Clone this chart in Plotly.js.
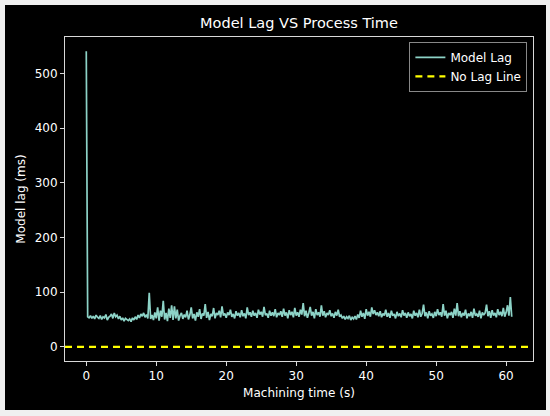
<!DOCTYPE html>
<html>
<head>
<meta charset="utf-8">
<script src="https://cdn.plot.ly/plotly-3.0.1.min.js"></script>
<style>
	html, body { margin: 0; padding: 0; background: #f0f0f0; }
	#plot { position: absolute; left: 5px; top: 5px; width: 541px; height: 405px; }
</style>
</head>
<body>
<div id="plot"></div>
<script>
/* global Plotly */
// model lag in ms, one sample every 0.2 s starting at t = 0
const SAMPLE_START = 0;
const SAMPLE_STEP = 0.2;
const modelLag = [
	541, 55, 53, 57, 52, 56, 51, 58, 54, 52,
	57, 50, 55, 53, 59, 49, 54, 56, 60, 52,
	62, 55, 58, 51, 56, 49, 53, 47, 52, 50,
	48, 51, 46, 53, 49, 55, 50, 58, 53, 60,
	56, 62, 54, 59, 52, 99, 51, 58, 49, 63,
	52, 72, 48, 66, 55, 84, 50, 62, 47, 70,
	53, 76, 49, 74, 52, 68, 48, 57, 62, 51,
	59, 54, 66, 50, 58, 72, 52, 60, 48, 63,
	55, 69, 51, 61, 57, 78, 53, 64, 49, 60,
	56, 71, 52, 62, 58, 66, 54, 74, 57, 61,
	53, 63, 58, 68, 55, 60, 52, 65, 57, 62,
	54, 67, 56, 61, 52, 72, 58, 63, 55, 66,
	57, 62, 53, 68, 59, 64, 55, 73, 58, 61,
	53, 66, 57, 63, 56, 69, 54, 62, 58, 65,
	55, 70, 57, 63, 52, 67, 58, 64, 54, 71,
	57, 63, 55, 68, 59, 80, 56, 66, 53, 62,
	73, 57, 64, 52, 69, 58, 63, 55, 76, 57,
	65, 54, 62, 58, 67, 56, 61, 53, 64, 57,
	68, 55, 58, 52, 56, 50, 55, 52, 57, 49,
	54, 51, 56, 50, 59, 53, 66, 55, 62, 51,
	69, 57, 64, 55, 72, 60, 67, 58, 63, 56,
	65, 54, 61, 57, 68, 55, 62, 53, 66, 57,
	60, 52, 64, 56, 61, 54, 67, 57, 62, 53,
	63, 56, 60, 52, 66, 57, 62, 54, 68, 55,
	61, 77, 56, 63, 52, 65, 57, 60, 53, 64,
	56, 69, 58, 63, 55, 78, 57, 66, 52, 62,
	58, 64, 53, 70, 57, 80, 56, 65, 54, 62,
	57, 68, 52, 61, 56, 64, 53, 70, 57, 60,
	55, 66, 52, 63, 58, 62, 77, 56, 65, 53,
	67, 57, 62, 54, 69, 58, 64, 56, 71, 55,
	63, 76, 57, 91, 55,
];

const xRange = [-3.04, 63.84];
const yRange = [-26, 567];
const xTicks = [0, 10, 20, 30, 40, 50, 60];
const yTicks = [0, 100, 200, 300, 400, 500];
const noLag = [0, 0];

const FONT = "DejaVu Sans, Liberation Sans, sans-serif";
const FG = "#ffffff";
const FS = 12;

const axisBase = {
	showgrid: false,
	zeroline: false,
	showline: true,
	mirror: true,
	linecolor: "#d8d8d8",
	linewidth: 1,
	ticks: "outside",
	ticklen: 4,
	tickwidth: 1,
	tickcolor: "#d8d8d8",
	tickfont: { family: FONT, size: FS, color: FG },
	tickmode: "array",
	fixedrange: true,
};

const data = [
	{
		type: "scatter",
		mode: "lines",
		name: "Model Lag",
		x0: SAMPLE_START,
		dx: SAMPLE_STEP,
		y: modelLag,
		line: { color: "#8dd3c7", width: 1.7 },
	},
	{
		type: "scatter",
		mode: "lines",
		name: "No Lag Line",
		x: xRange,
		y: noLag,
		line: { color: "#ffff00", width: 2.2, dash: "7px,5px" },
	},
];

const layout = {
	width: 541,
	height: 405,
	margin: { l: 60, r: 13, t: 32, b: 49 },
	paper_bgcolor: "#000000",
	plot_bgcolor: "#000000",
	font: { family: FONT, color: FG, size: FS },
	hovermode: false,
	title: {
		text: "Model Lag VS Process Time",
		font: { family: FONT, size: 14.5, color: FG },
		x: 0.5,
		xref: "paper",
		xanchor: "center",
		y: 1 - 18 / 405,
		yref: "container",
		yanchor: "middle",
	},
	xaxis: {
		...axisBase,
		range: xRange,
		tickvals: xTicks,
		ticktext: xTicks.map(String),
		title: { text: "Machining time (s)", font: { family: FONT, size: FS, color: FG }, standoff: 6 },
	},
	yaxis: {
		...axisBase,
		range: yRange,
		tickvals: yTicks,
		ticktext: yTicks.map(String),
		title: { text: "Model lag (ms)", font: { family: FONT, size: FS, color: FG }, standoff: 6 },
	},
	showlegend: true,
	legend: {
		x: 0.988,
		xanchor: "right",
		y: 0.985,
		yanchor: "top",
		bgcolor: "#000000",
		bordercolor: "#888888",
		borderwidth: 1,
		font: { family: FONT, size: FS, color: FG },
		itemwidth: 30,
		tracegroupgap: 0,
	},
};

Plotly.newPlot("plot", data, layout, { displayModeBar: false, staticPlot: true });
</script>
</body>
</html>
